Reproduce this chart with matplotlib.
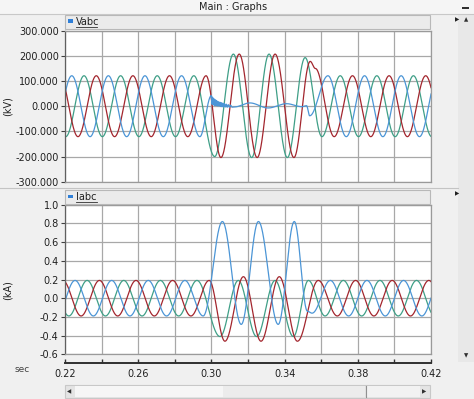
import numpy as np
import matplotlib.pyplot as plt
from matplotlib.patches import Rectangle
from matplotlib.lines import Line2D

# turning points (time in s, value)
# Vabc (kV)
va_t = [0.2071, 0.2171, 0.2271, 0.2371, 0.2471, 0.2571, 0.2671, 0.2771, 0.2871, 0.2971,
        0.3052, 0.3152, 0.3250, 0.3348, 0.3451, 0.3540, 0.3568, 0.3671, 0.3771, 0.3871,
        0.3971, 0.4071, 0.4171, 0.4271]
va_v = [-121, 121, -121, 121, -121, 121, -121, 121, -121, 121,
        -204, 207, -204, 207, -204, 178, 150, -121, 121, -121,
        121, -121, 121, -121]
vb_t = [0.2137, 0.2237, 0.2337, 0.2437, 0.2537, 0.2637, 0.2737, 0.2837, 0.2937,
        0.3000, 0.3003, 0.3006, 0.3009, 0.3012, 0.3015, 0.3018, 0.3021, 0.3024, 0.3027,
        0.3030, 0.3034, 0.3038, 0.3042, 0.3046, 0.3050, 0.3054, 0.3058, 0.3062, 0.3066,
        0.3071, 0.3076, 0.3081, 0.3086, 0.3092, 0.3098, 0.3105, 0.3113, 0.3125,
        0.3210, 0.3310, 0.3410, 0.3495, 0.3520, 0.3537, 0.3637, 0.3737, 0.3837, 0.3937,
        0.4037, 0.4137, 0.4237]
vb_v = [-121, 121, -121, 121, -121, 121, -121, 121, -121,
        42, 8, 36, 6, 31, 4, 27, 3, 24, 2,
        21, 1, 18, 0, 16, -1, 14, -2, 12, -3,
        10, -3, 8, -4, 6, -4, 4, -4, -3,
        13, -7, 10, -2, 2, -38, 121, -121, 121, -121,
        121, -121, 121]
vc_t = [0.2104, 0.2204, 0.2304, 0.2404, 0.2504, 0.2604, 0.2704, 0.2804, 0.2904,
        0.3018, 0.3120, 0.3220, 0.3315, 0.3415, 0.3512, 0.3604, 0.3704, 0.3804, 0.3904,
        0.4004, 0.4104, 0.4204, 0.4304]
vc_v = [121, -121, 121, -121, 121, -121, 121, -121, 121,
        -200, 207, -204, 207, -204, 193, -121, 121, -121, 121,
        -121, 121, -121, 121]

# Iabc (kA)
ia_t = [0.2088, 0.2188, 0.2288, 0.2388, 0.2488, 0.2588, 0.2688, 0.2788, 0.2888, 0.2988,
        0.3074, 0.3175, 0.3271, 0.3371, 0.3470, 0.3584, 0.3688, 0.3788, 0.3888, 0.3988,
        0.4088, 0.4188, 0.4288]
ia_v = [-0.19, 0.19, -0.19, 0.19, -0.19, 0.19, -0.19, 0.19, -0.19, 0.19,
        -0.46, 0.23, -0.46, 0.23, -0.46, 0.19, -0.19, 0.19, -0.19, 0.19,
        -0.19, 0.19, -0.19]
ib_t = [0.2155, 0.2255, 0.2355, 0.2455, 0.2555, 0.2655, 0.2755, 0.2855, 0.2955,
        0.3060, 0.3163, 0.3257, 0.3365, 0.3453, 0.3525, 0.3550, 0.3650, 0.3750, 0.3850,
        0.3950, 0.4050, 0.4150, 0.4250]
ib_v = [-0.19, 0.19, -0.19, 0.19, -0.19, 0.19, -0.19, 0.19, -0.19,
        0.82, -0.28, 0.82, -0.28, 0.82, -0.14, -0.16, 0.19, -0.19, 0.19,
        -0.19, 0.19, -0.19, 0.19]
ic_t = [0.2121, 0.2221, 0.2321, 0.2421, 0.2521, 0.2621, 0.2721, 0.2821, 0.2921,
        0.3047, 0.3147, 0.3247, 0.3348, 0.3448, 0.3530, 0.3621, 0.3721, 0.3821, 0.3921,
        0.4021, 0.4121, 0.4221]
ic_v = [0.19, -0.19, 0.19, -0.19, 0.19, -0.19, 0.19, -0.19, 0.19,
        -0.41, 0.19, -0.41, 0.19, -0.41, 0.19, -0.19, 0.19, -0.19, 0.19,
        -0.19, 0.19, -0.19]

time_ticks = [0.22, 0.24, 0.26, 0.28, 0.30, 0.32, 0.34, 0.36, 0.38, 0.40, 0.42]
time_labels = ['0.22', '', '0.26', '', '0.30', '', '0.34', '', '0.38', '', '0.42']
v_ticks = [-300, -200, -100, 0, 100, 200, 300]
v_labels = ['-300.000', '-200.000', '-100.000', '0.000', '100.000', '200.000', '300.000']
i_ticks = [-0.6, -0.4, -0.2, 0.0, 0.2, 0.4, 0.6, 0.8, 1.0]
i_labels = ['-0.6', '-0.4', '-0.2', '0.0', '0.2', '0.4', '0.6', '0.8', '1.0']

col_a = '#a3262e'
col_b = '#4b95d6'
col_c = '#3f9f87'
grid_col = '#a8a8a8'

W, H = 474, 399


def fx(x):
    return x / W


def fy(y):
    return 1 - y / H


# smooth half-cosine shape between consecutive turning points
def wave(tp, vp, t):
    tp = np.asarray(tp)
    vp = np.asarray(vp, dtype=float)
    i = np.clip(np.searchsorted(tp, t, side='right') - 1, 0, len(tp) - 2)
    t0, t1 = tp[i], tp[i + 1]
    v0, v1 = vp[i], vp[i + 1]
    ph = np.clip((t - t0) / (t1 - t0), 0, 1)
    return (v0 + v1) / 2 + (v0 - v1) / 2 * np.cos(np.pi * ph)


fig = plt.figure(figsize=(4.74, 3.99), dpi=100)
fig.patch.set_facecolor('#f0f0f0')


def box(x0, y0, x1, y1, fc, ec='none', lw=0.8):
    fig.add_artist(Rectangle((fx(x0), fy(y1)), fx(x1) - fx(x0), fy(y0) - fy(y1),
                             transform=fig.transFigure, facecolor=fc, edgecolor=ec, linewidth=lw))


def hline(x0, x1, y, c, lw=0.8):
    fig.add_artist(Line2D([fx(x0), fx(x1)], [fy(y), fy(y)], transform=fig.transFigure, color=c, lw=lw))


# window chrome
box(0, 0, 474, 14, '#f5f5f5')
hline(0, 474, 14, '#c8c8c8')
fig.text(fx(233), fy(7.5), 'Main : Graphs', fontsize=7, ha='center', va='center', color='#202020')
box(462, 7, 469, 9, '#303030')
box(458, 15, 474, 362, '#e8e8e8')
fig.text(fx(466), fy(19.5), '▲', fontsize=4, ha='center', va='center', color='#303030')
fig.text(fx(466), fy(356), '▼', fontsize=4, ha='center', va='center', color='#303030')
fig.text(fx(457), fy(20), '▶', fontsize=4, ha='center', va='center', color='#202020')
fig.text(fx(457), fy(194), '▶', fontsize=4, ha='center', va='center', color='#202020')
hline(0, 458, 187.5, '#c4c4c4')

# legend header bars
for yt, name in [(15, 'Vabc'), (190, 'Iabc')]:
    box(65, yt, 430, yt + 14, '#ebebeb', '#b8b8b8')
    box(68, yt + 4.5, 73, yt + 8, '#2f7fd8')
    fig.text(fx(76), fy(yt + 7), name, fontsize=7, ha='left', va='center', color='#202020')
    hline(76, 97, yt + 12, '#303030', lw=0.6)

t = np.linspace(0.215, 0.425, 8000)


def setup(ax, ticks, labels, ylim):
    ax.set_facecolor('white')
    ax.set_xlim(0.22, 0.42)
    ax.set_ylim(*ylim)
    ax.set_xticks(time_ticks)
    ax.tick_params(axis='x', length=0, labelbottom=False)
    ax.set_yticks(ticks)
    ax.set_yticklabels(labels)
    ax.tick_params(axis='y', labelsize=7, length=3, width=0.8, pad=1.5, colors='#404040', labelcolor='#202020')
    ax.grid(True, color=grid_col, lw=0.9)
    ax.set_axisbelow(True)
    for s in ax.spines.values():
        s.set_color('#9a9a9a')
        s.set_linewidth(0.9)
    ax.spines['left'].set_color('#606060')


ax1 = fig.add_axes([fx(65), fy(181.7), fx(431) - fx(65), fy(30.7) - fy(181.7)])
setup(ax1, v_ticks, v_labels, (-300, 300))
ax1.plot(t, wave(vc_t, vc_v, t), color=col_c, lw=0.9)
ax1.plot(t, wave(va_t, va_v, t), color=col_a, lw=0.9)
ax1.plot(t, wave(vb_t, vb_v, t), color=col_b, lw=0.9)
fig.text(fx(8), fy(106), '(kV)', rotation=90, fontsize=7, ha='center', va='center', color='#202020')

ax2 = fig.add_axes([fx(65), fy(354.3), fx(431) - fx(65), fy(204.7) - fy(354.3)])
setup(ax2, i_ticks, i_labels, (-0.6, 1.0))
ax2.plot(t, wave(ic_t, ic_v, t), color=col_c, lw=0.9)
ax2.plot(t, wave(ia_t, ia_v, t), color=col_a, lw=0.9)
ax2.plot(t, wave(ib_t, ib_v, t), color=col_b, lw=0.9)
fig.text(fx(8), fy(290), '(kA)', rotation=90, fontsize=7, ha='center', va='center', color='#202020')

# time axis
ax3 = fig.add_axes([fx(65), fy(363), fx(431) - fx(65), 0.001])
ax3.set_facecolor('none')
ax3.set_xlim(0.22, 0.42)
ax3.set_yticks([])
for k in ['top', 'left', 'right']:
    ax3.spines[k].set_visible(False)
ax3.spines['bottom'].set_color('#303030')
ax3.spines['bottom'].set_linewidth(1.4)
ax3.set_xticks(time_ticks)
ax3.set_xticklabels(time_labels)
ax3.tick_params(axis='x', direction='in', length=3, width=1, labelsize=7, pad=4, colors='#303030', labelcolor='#202020')
fig.text(fx(22), fy(369), 'sec', fontsize=6.5, ha='center', va='center', color='#404040')

# horizontal scrollbar
box(65, 385, 430, 398, '#e4e4e4', '#c8c8c8')
box(75, 386, 223, 397, '#f6f6f6')
box(223, 386, 365, 397, '#ececec')
box(367, 386, 420, 397, '#f2f2f2')
fig.add_artist(Line2D([fx(366), fx(366)], [fy(386), fy(397)], transform=fig.transFigure, color='#909090', lw=0.8))
fig.text(fx(69), fy(391.5), '◀', fontsize=4, ha='center', va='center', color='#303030')
fig.text(fx(424), fy(391.5), '▶', fontsize=4, ha='center', va='center', color='#303030')

fig.savefig('out.png', dpi=100, facecolor=fig.get_facecolor())
